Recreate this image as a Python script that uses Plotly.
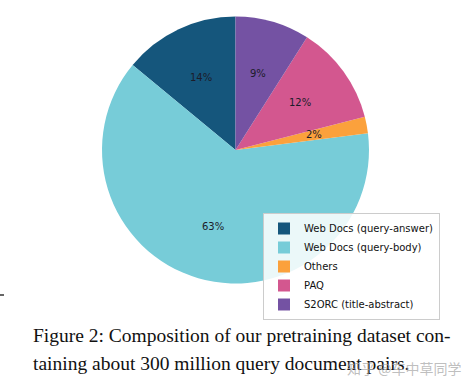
import math
import plotly.graph_objects as go

labels = ["Web Docs (query-answer)", "Web Docs (query-body)", "Others", "PAQ", "S2ORC (title-abstract)"]
values = [14, 63, 2, 12, 9]
colors = ["#15567c", "#77ccd8", "#fba13c", "#d3578f", "#7452a3"]
caption_lines = ["Figure 2: Composition of our pretraining dataset con-",
                 "taining about 300 million query document pairs."]
watermark = "知乎 @车中草同学"

W, H = 474, 386
cx_px, cy_px, r_px = 235.5, 150.0, 133.5
dom_x = [(cx_px - r_px) / W, (cx_px + r_px) / W]
dom_y = [1 - (cy_px + r_px) / H, 1 - (cy_px - r_px) / H]

total = sum(values)
first_angle = values[0] / total * 360.0

fig = go.Figure()
fig.add_trace(go.Pie(
    labels=labels, values=values, sort=False, direction="counterclockwise",
    rotation=-first_angle, marker=dict(colors=colors, line=dict(width=0)),
    textinfo="none", hoverinfo="skip", domain=dict(x=dom_x, y=dom_y),
))

# percentage labels at 0.6 radius (computed from the data)
cum = 0
annotations = []
cxp = (dom_x[0] + dom_x[1]) / 2
cyp = (dom_y[0] + dom_y[1]) / 2
for v in values:
    mid = (cum + v / 2) / total * 360.0
    cum += v
    ang = math.radians(90 + mid)  # counterclockwise from top
    px = cxp + 0.6 * r_px * math.cos(ang) / W
    py = cyp + 0.6 * r_px * math.sin(ang) / H
    annotations.append(dict(x=px, y=py, xref="paper", yref="paper",
                            text=f"{round(v / total * 100)}%", showarrow=False,
                            font=dict(family="DejaVu Sans", size=10, color="#1c1c2a"),
                            xanchor="center", yanchor="middle"))

annotations.append(dict(x=31 / W, y=1 - 335 / H, xref="paper", yref="paper",
                        text=caption_lines[0], showarrow=False, xanchor="left", yanchor="middle",
                        font=dict(family="Liberation Serif", size=19.5, color="#111111")))
annotations.append(dict(x=31 / W, y=1 - 363 / H, xref="paper", yref="paper",
                        text=caption_lines[1], showarrow=False, xanchor="left", yanchor="middle",
                        font=dict(family="Liberation Serif", size=19.5, color="#111111")))
annotations.append(dict(x=463 / W, y=1 - 368 / H, xref="paper", yref="paper",
                        text=watermark, showarrow=False, xanchor="right", yanchor="middle",
                        font=dict(family="Noto Sans CJK SC", size=14, color="rgba(170,170,170,0.75)")))

fig.update_layout(
    width=W, height=H, margin=dict(l=0, r=0, t=0, b=0),
    paper_bgcolor="white", plot_bgcolor="white",
    showlegend=True,
    legend=dict(x=263 / W, y=1 - 213 / H, xanchor="left", yanchor="top",
                bgcolor="rgba(255,255,255,0.85)", bordercolor="#cccccc", borderwidth=1,
                font=dict(family="DejaVu Sans", size=10, color="#111111"),
                tracegroupgap=0, itemwidth=30, itemsizing="constant"),
    annotations=annotations,
    shapes=[dict(type="line", xref="paper", yref="paper", x0=0, x1=4 / W,
                 y0=1 - 295 / H, y1=1 - 295 / H, line=dict(color="#333333", width=1.5))],
)

fig.write_html("out.html", config={"displayModeBar": False},
               post_script="document.body.style.margin='0';")
